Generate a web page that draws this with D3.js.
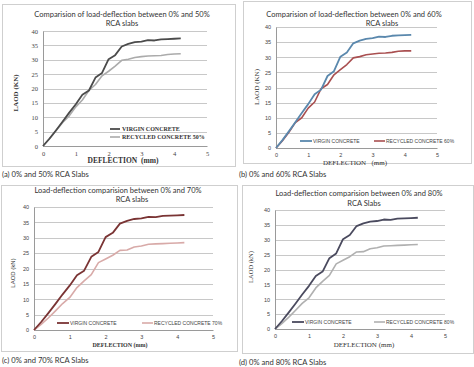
<!DOCTYPE html>
<html><head><meta charset="utf-8">
<script src="https://cdn.jsdelivr.net/npm/d3@7"></script>
<style>html,body{margin:0;padding:0;background:#fff}svg{display:block}</style>
</head><body>
<script>
// ---- data ----
const deflection = [0,0.2,0.4,0.6,0.8,1.0,1.2,1.4,1.6,1.8,2.0,2.2,2.4,2.6,2.8,3.0,3.2,3.4,3.6,3.8,4.0,4.2];
const virginLoad = [0,2.6,5.5,8.5,11.6,14.5,17.8,19.3,23.8,25.4,30.2,31.6,34.6,35.5,36.1,36.3,36.8,36.7,37.1,37.2,37.3,37.4];
const rca50Load  = [0,2.5,5.4,8.2,10.5,13.6,16.0,19.3,21.4,24.4,26.0,27.8,29.8,30.2,30.8,31.1,31.3,31.4,31.5,31.8,32.0,32.1];
const rca60Load  = [0,2.4,5.2,8.4,10.0,13.2,15.2,19.6,21.0,24.2,25.9,27.6,29.8,30.2,30.8,31.1,31.3,31.4,31.6,32.0,32.1,32.1];
const rca70Load  = [0,1.8,3.9,6.2,8.6,10.6,13.8,16.0,18.0,21.9,23.1,24.3,25.9,26.0,27.0,27.3,27.9,28.0,28.1,28.2,28.3,28.4];
const rca80Load  = [0,1.8,3.9,6.2,8.6,10.5,13.8,16.0,18.0,21.9,23.1,24.3,25.9,26.0,27.0,27.3,27.9,28.0,28.1,28.2,28.3,28.4];
const xTicks = [0,1,2,3,4,5];
const yTicks = [0,5,10,15,20,25,30,35,40];
const virginName = "VIRGIN CONCRETE";
const recycledNames = ["RECYCLED CONCRETE 50%","RECYCLED CONCRETE 60%","RECYCLED CONCRETE 70%","RECYCLED CONCRETE 80%"];
const titles1 = ["Comparision of load-deflection between 0% and 50%","Comparision of load-deflection between 0% and 60%","Load-deflection comparision between 0% and 70%","Load-deflection comparision between 0% and 80%"];
const titles2 = ["RCA slabs","RCA slabs","RCA slabs","RCA Slabs"];
const captions = ["(a) 0% and 50% RCA Slabs","(b) 0% and 60% RCA Slabs","(c) 0% and 70% RCA Slabs","(d) 0% and 80% RCA Slabs"];
const yLabels = ["LAOD (KN)","LAOD (KN)","LAOD (kN)","LAOD (kN)"];
const recycledLoads = [rca50Load, rca60Load, rca70Load, rca80Load];

const SANS = "Lato, 'Open Sans', sans-serif";
const ARIAL = "'Liberation Sans', Arial, sans-serif";
const SERIF = "'Liberation Serif', 'Times New Roman', serif";

const panels = [
  {frame:[2,4,233,162], plot:[43,207,146,31], t1:[122,16.5], t2:[122,25.5], cap:[2,177],
   vCol:"#4b4b4b", rCol:"#ababab", tickFont:SERIF, tickSize:6.5, ylFont:SERIF, ylW:"bold", ylSize:7, ylPos:[16,93],
   xlFont:SERIF, xlW:"bold", xlSize:7.5, xlPos:[123,163], xlText:"DEFLECTION  (mm)",
   legend:"two", leg:[110,129,120,137], legFont:SERIF, legW:"bold", legSize:6},
  {frame:[243,1,228,162], plot:[276,437,148,27], t1:[354,16.5], t2:[382,25.5], cap:[239,177],
   vCol:"#5a88ad", rCol:"#a94f50", tickFont:ARIAL, tickSize:5.5, ylFont:SERIF, ylW:"normal", ylSize:7, ylPos:[257,87],
   xlFont:SERIF, xlW:"normal", xlSize:7, xlPos:[355,165], xlText:"DEFLECTION   (mm)",
   legend:"one", leg:[300,313,374,386], legY:141, legFont:ARIAL, legW:"normal", legSize:5},
  {frame:[1,185,236,166], plot:[34,213,330,207], t1:[118,193], t2:[132,202], cap:[2,363],
   vCol:"#7a3434", rCol:"#d8aaa8", tickFont:ARIAL, tickSize:5.5, ylFont:ARIAL, ylW:"normal", ylSize:6, ylPos:[13,273],
   xlFont:SERIF, xlW:"bold", xlSize:6, xlPos:[120,347], xlText:"DEFLECTION (mm)",
   legend:"one", leg:[57,70,142,154], legY:323, legFont:ARIAL, legW:"normal", legSize:5},
  {frame:[242,185,231,168], plot:[275,445,329,210], t1:[359,196], t2:[364,205.5], cap:[239,365],
   vCol:"#4a4a5e", rCol:"#b0b0b0", tickFont:ARIAL, tickSize:5.5, ylFont:SERIF, ylW:"normal", ylSize:6.5, ylPos:[252,267],
   xlFont:SERIF, xlW:"normal", xlSize:7, xlPos:[364,347], xlText:"DEFLECTION (mm)",
   legend:"one", leg:[292,305,374,386], legY:322, legFont:ARIAL, legW:"normal", legSize:5}
];

const svg = d3.select("body").append("svg").attr("width",474).attr("height",367);

panels.forEach((p,i)=>{
  const g = svg.append("g");
  g.append("rect").attr("x",p.frame[0]+0.5).attr("y",p.frame[1]+0.5).attr("width",p.frame[2]).attr("height",p.frame[3])
    .attr("fill","#fff").attr("stroke","#cfcfcf").attr("stroke-width",1);
  const x = d3.scaleLinear().domain([0,5]).range([p.plot[0],p.plot[1]]);
  const y = d3.scaleLinear().domain([0,40]).range([p.plot[2],p.plot[3]]);
  g.append("g").selectAll("line").data(yTicks).join("line")
    .attr("x1",x(0)).attr("x2",x(5)).attr("y1",d=>Math.round(y(d))+0.5).attr("y2",d=>Math.round(y(d))+0.5)
    .attr("stroke","#c8c8c8").attr("stroke-width",1);
  const yAxis = g.append("g").attr("transform",`translate(${x(0)},0)`)
    .call(d3.axisLeft(y).tickValues(yTicks).tickFormat(d3.format("d")).tickSize(0).tickPadding(5));
  yAxis.select(".domain").attr("stroke","#9a9a9a");
  const xAxis = g.append("g").attr("transform",`translate(0,${y(0)})`)
    .call(d3.axisBottom(x).tickValues(xTicks).tickFormat(d3.format("d")).tickSize(0).tickPadding(5));
  xAxis.select(".domain").attr("stroke","#9a9a9a");
  [xAxis,yAxis].forEach(a=>a.selectAll("text").attr("font-family",p.tickFont).attr("font-size",p.tickSize).attr("fill","#444"));
  const line = d3.line().x((d,j)=>x(deflection[j])).y(d=>y(d)).curve(d3.curveLinear);
  g.append("path").datum(recycledLoads[i]).attr("d",line).attr("fill","none").attr("stroke",p.rCol).attr("stroke-width",1.6).attr("stroke-linejoin","round");
  g.append("path").datum(virginLoad).attr("d",line).attr("fill","none").attr("stroke",p.vCol).attr("stroke-width",1.8).attr("stroke-linejoin","round");
  g.append("text").attr("x",p.t1[0]).attr("y",p.t1[1]).attr("text-anchor","middle").attr("font-family",SANS).attr("font-size",7.5).attr("fill","#333").text(titles1[i]);
  g.append("text").attr("x",p.t2[0]).attr("y",p.t2[1]).attr("text-anchor","middle").attr("font-family",SANS).attr("font-size",7.5).attr("fill","#333").text(titles2[i]);
  g.append("text").attr("transform",`translate(${p.ylPos[0]},${p.ylPos[1]}) rotate(-90)`).attr("text-anchor","middle").attr("dominant-baseline","middle")
    .attr("font-family",p.ylFont).attr("font-weight",p.ylW).attr("font-size",p.ylSize).attr("fill","#333").text(yLabels[i]);
  g.append("text").attr("x",p.xlPos[0]).attr("y",p.xlPos[1]).attr("text-anchor","middle")
    .attr("font-family",p.xlFont).attr("font-weight",p.xlW).attr("font-size",p.xlSize).attr("fill","#333").style("white-space","pre").text(p.xlText);
  if(p.legend==="two"){
    g.append("line").attr("x1",p.leg[0]).attr("x2",p.leg[0]+10).attr("y1",p.leg[1]).attr("y2",p.leg[1]).attr("stroke",p.vCol).attr("stroke-width",1.8);
    g.append("text").attr("x",p.leg[0]+12).attr("y",p.leg[1]+2).attr("font-family",p.legFont).attr("font-weight",p.legW).attr("font-size",p.legSize).attr("fill","#333").text(virginName);
    g.append("line").attr("x1",p.leg[0]).attr("x2",p.leg[0]+10).attr("y1",p.leg[3]).attr("y2",p.leg[3]).attr("stroke",p.rCol).attr("stroke-width",1.6);
    g.append("text").attr("x",p.leg[0]+12).attr("y",p.leg[3]+2).attr("font-family",p.legFont).attr("font-weight",p.legW).attr("font-size",p.legSize).attr("fill","#333").text(recycledNames[i]);
  } else {
    g.append("line").attr("x1",p.leg[0]).attr("x2",p.leg[1]-1).attr("y1",p.legY).attr("y2",p.legY).attr("stroke",p.vCol).attr("stroke-width",1.8);
    g.append("text").attr("x",p.leg[1]).attr("y",p.legY+2).attr("font-family",p.legFont).attr("font-size",p.legSize).attr("fill","#444").text(virginName);
    g.append("line").attr("x1",p.leg[2]).attr("x2",p.leg[3]-1).attr("y1",p.legY).attr("y2",p.legY).attr("stroke",p.rCol).attr("stroke-width",1.6);
    g.append("text").attr("x",p.leg[3]).attr("y",p.legY+2).attr("font-family",p.legFont).attr("font-size",p.legSize).attr("fill","#444").text(recycledNames[i]);
  }
  svg.append("text").attr("x",p.cap[0]).attr("y",p.cap[1]).attr("font-family",SANS).attr("font-size",7.6).attr("fill","#333").text(captions[i]);
});
</script>
</body></html>
